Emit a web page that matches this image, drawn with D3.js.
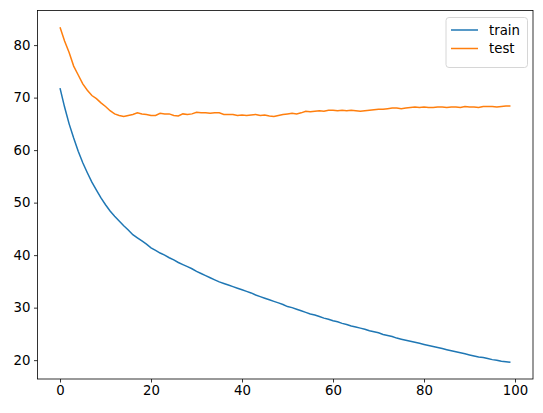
<!DOCTYPE html>
<html><head><meta charset="utf-8">
<script src="https://cdn.jsdelivr.net/npm/d3@7"></script>
<style>body{margin:0;background:#fff}text{font-family:"DejaVu Sans",sans-serif}</style>
</head><body>
<script>
const train = [71.8,68.2,65.0,62.3,59.8,57.6,55.7,53.9,52.4,50.9,
49.6,48.4,47.4,46.5,45.6,44.8,43.9,43.3,42.7,42.1,
41.4,40.9,40.4,40.0,39.5,39.1,38.6,38.2,37.8,37.4,
36.9,36.5,36.1,35.7,35.3,34.9,34.6,34.3,34.0,33.7,
33.4,33.1,32.8,32.4,32.1,31.8,31.5,31.2,30.9,30.6,
30.2,30.0,29.7,29.4,29.1,28.8,28.6,28.3,28.0,27.8,
27.5,27.3,27.0,26.8,26.5,26.3,26.1,25.9,25.6,25.4,
25.2,24.9,24.7,24.5,24.2,24.0,23.8,23.6,23.4,23.2,
23.0,22.8,22.6,22.4,22.2,22.0,21.8,21.6,21.4,21.2,
21.0,20.8,20.6,20.5,20.3,20.1,20.0,19.8,19.7,19.6];
const test = [83.4,80.8,78.6,76.0,74.3,72.6,71.4,70.4,69.8,69.0,
68.3,67.5,66.9,66.6,66.4,66.6,66.8,67.1,66.9,66.8,
66.6,66.6,67.0,66.9,66.9,66.6,66.5,66.9,66.8,66.9,
67.2,67.1,67.1,67.0,67.1,67.1,66.8,66.8,66.8,66.6,
66.7,66.6,66.7,66.8,66.6,66.7,66.5,66.4,66.6,66.8,
66.9,67.0,66.9,67.1,67.4,67.3,67.4,67.5,67.4,67.6,
67.6,67.5,67.6,67.5,67.6,67.5,67.4,67.5,67.6,67.7,
67.8,67.8,67.9,68.0,68.0,67.9,68.0,68.1,68.2,68.1,
68.2,68.1,68.1,68.2,68.2,68.1,68.2,68.2,68.1,68.3,
68.2,68.2,68.1,68.3,68.3,68.3,68.2,68.3,68.4,68.4];
const series = [{name: "train", values: train, color: "#1f77b4"},
                {name: "test", values: test, color: "#ff7f0e"}];
const xTicks = [0, 20, 40, 60, 80, 100];
const yTicks = [20, 30, 40, 50, 60, 70, 80];

const W = 543, H = 413;
const m = {left: 37.5, right: 10, top: 10.5, bottom: 34};

const svg = d3.select("body").append("svg").attr("width", W).attr("height", H);

const xs = d3.scaleLinear().domain([-4.95, 103.95]).range([m.left, W - m.right]);
const all = train.concat(test);
const lo = d3.min(all), hi = d3.max(all), pad = (hi - lo) * 0.05;
const ys = d3.scaleLinear().domain([lo - pad, hi + pad]).range([H - m.bottom, m.top]);

const line = d3.line().x((d, i) => xs(i)).y(d => ys(d));

series.forEach(s => {
    svg.append("path")
        .attr("d", line(s.values))
        .attr("fill", "none")
        .attr("stroke", s.color)
        .attr("stroke-width", 1.5);
});

svg.append("rect")
    .attr("x", m.left).attr("y", m.top)
    .attr("width", W - m.right - m.left).attr("height", H - m.bottom - m.top)
    .attr("fill", "none").attr("stroke", "black").attr("stroke-width", 0.8);

const xa = svg.append("g").attr("transform", "translate(0," + (H - m.bottom) + ")")
    .call(d3.axisBottom(xs).tickValues(xTicks).tickSize(3.5).tickPadding(3.5));
const ya = svg.append("g").attr("transform", "translate(" + m.left + ",0)")
    .call(d3.axisLeft(ys).tickValues(yTicks).tickSize(3.5).tickPadding(3.5));
[xa, ya].forEach(a => {
    a.select(".domain").remove();
    a.selectAll("text").style("font-size", "13.3px").attr("fill", "#000");
    a.selectAll("line").attr("stroke-width", 0.8);
});

// legend
const lg = svg.append("g").attr("transform", "translate(446,17.5)");
lg.append("rect").attr("width", 81.5).attr("height", 50).attr("rx", 3)
    .attr("fill", "white").attr("fill-opacity", 0.8)
    .attr("stroke", "#ccc").attr("stroke-width", 0.8);
series.forEach((s, i) => {
    const y = 12.5 + i * 18.5;
    lg.append("line").attr("x1", 5).attr("x2", 32).attr("y1", y).attr("y2", y)
        .attr("stroke", s.color).attr("stroke-width", 1.5);
    lg.append("text").attr("x", 43).attr("y", y + 4.5)
        .style("font-size", "13.3px").text(s.name);
});
</script>
</body></html>
